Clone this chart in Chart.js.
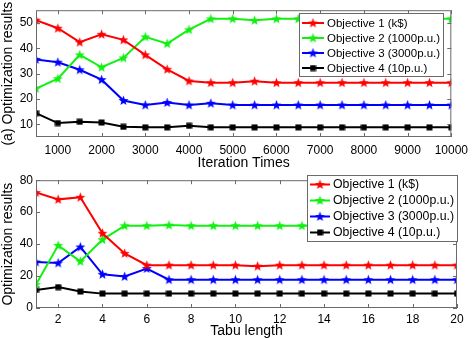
<!DOCTYPE html>
<html lang="en">
<head>
  <meta charset="UTF-8" />
  <title>Optimization results</title>
  <script src="https://cdn.jsdelivr.net/npm/chart.js"></script>
  <style>
    body {
      margin: 0;
      background: #fff;
      width: 474px;
      height: 338px;
      overflow: hidden;
      position: relative;
    }
    canvas {
      position: absolute;
      left: 0;
    }
    #topChart { top: 0; }
    #bottomChart { top: 170px; }
  </style>
</head>
<body>

<canvas id="topChart" width="474" height="170"></canvas>
<canvas id="bottomChart" width="474" height="168"></canvas>

<script>
  // ---- data (a): iteration times ----
  const iterations = [500, 1000, 1500, 2000, 2500, 3000, 3500, 4000, 4500, 5000,
                      5500, 6000, 6500, 7000, 7500, 8000, 8500, 9000, 9500, 10000];
  const iterObj1 = [51.1, 47.9, 42.4, 45.5, 43.3, 37.4, 31.7, 27.1, 26.4, 26.4,
                    27.0, 26.4, 26.4, 26.4, 26.4, 26.4, 26.4, 26.4, 26.4, 26.4];
  const iterObj2 = [24.1, 28.0, 37.4, 32.5, 36.2, 44.5, 41.8, 47.3, 51.6, 51.6,
                    51.0, 51.6, 51.6, 51.6, 51.6, 51.6, 51.6, 51.6, 51.6, 51.6];
  const iterObj3 = [35.6, 34.5, 31.5, 27.6, 19.4, 17.6, 18.6, 17.6, 18.3, 17.6,
                    17.6, 17.6, 17.6, 17.6, 17.6, 17.6, 17.6, 17.6, 17.6, 17.6];
  const iterObj4 = [14.4, 10.5, 11.0, 10.7, 9.0, 8.8, 8.8, 9.4, 8.8, 8.8,
                    8.8, 8.8, 8.8, 8.8, 8.8, 8.8, 8.8, 8.8, 8.8, 8.8];
  const iterXTicks = [1000, 2000, 3000, 4000, 5000, 6000, 7000, 8000, 9000, 10000];
  const iterYTicks = [10, 20, 30, 40, 50];

  // ---- data (b): tabu length ----
  const tabuLength = [1, 2, 3, 4, 5, 6, 7, 8, 9, 10, 11, 12, 13, 14, 15, 16, 17, 18, 19, 20];
  const tabuObj1 = [72.3, 68.0, 69.3, 46.8, 34.2, 26.8, 26.8, 26.8, 26.8, 26.8,
                    26.2, 26.8, 26.8, 26.8, 26.8, 26.8, 26.8, 26.8, 26.8, 26.8];
  const tabuObj2 = [14.7, 39.2, 29.2, 42.8, 51.5, 51.5, 51.9, 51.5, 51.5, 51.5,
                    51.5, 51.5, 51.5, 51.5, 51.5, 51.5, 51.5, 51.5, 51.5, 51.5];
  const tabuObj3 = [28.8, 28.2, 38.2, 21.1, 19.7, 24.7, 17.7, 17.7, 17.7, 17.7,
                    17.7, 17.7, 17.7, 17.7, 17.7, 17.7, 17.7, 17.7, 17.7, 17.7];
  const tabuObj4 = [11.3, 13.1, 10.3, 9.0, 9.0, 9.0, 9.0, 9.0, 9.0, 9.0,
                    9.0, 9.0, 9.0, 9.0, 9.0, 9.0, 9.0, 9.0, 9.0, 9.0];
  const tabuXTicks = [2, 4, 6, 8, 10, 12, 14, 16, 18, 20];
  const tabuYTicks = [0, 20, 40, 60, 80];

  const seriesLabels = ['Objective 1 (k$)', 'Objective 2 (1000p.u.)', 'Objective 3 (3000p.u.)', 'Objective 4 (10p.u.)'];
  const seriesColors = ['#ff0000', '#11f011', '#0000ff', '#000000'];

  const FONT = 'Arial, "Liberation Sans", sans-serif';
  const AXIS_COLOR = '#6a6a6a';

  // marker images
  function starMarker(color) {
    const c = document.createElement('canvas');
    c.width = 11; c.height = 11;
    const g = c.getContext('2d');
    g.fillStyle = color;
    g.beginPath();
    for (let i = 0; i < 10; i++) {
      const r = i % 2 === 0 ? 5.2 : 2.2;
      const a = -Math.PI / 2 + i * Math.PI / 5;
      const px = 5.5 + r * Math.cos(a), py = 5.8 + r * Math.sin(a);
      if (i === 0) g.moveTo(px, py); else g.lineTo(px, py);
    }
    g.closePath();
    g.fill();
    return c;
  }
  function squareMarker(color) {
    const c = document.createElement('canvas');
    c.width = 7; c.height = 7;
    const g = c.getContext('2d');
    g.fillStyle = color;
    g.fillRect(0.5, 0.5, 6, 6);
    return c;
  }
  const markers = [starMarker(seriesColors[0]), starMarker(seriesColors[1]),
                   starMarker(seriesColors[2]), squareMarker(seriesColors[3])];

  // box around the plot, inward tick marks and inside legend
  const matlabAxes = {
    id: 'matlabAxes',
    afterDatasetsDraw(chart, args, opts) {
      const ctx = chart.ctx;
      const a = chart.chartArea;
      const xs = chart.scales.x, ys = chart.scales.y;
      ctx.save();
      ctx.strokeStyle = AXIS_COLOR;
      ctx.lineWidth = 1;
      ctx.strokeRect(a.left + 0.5, a.top + 0.5, a.right - a.left - 1, a.bottom - a.top - 1);
      ctx.beginPath();
      opts.xTicks.forEach(v => {
        const px = Math.round(xs.getPixelForValue(v)) + 0.5;
        ctx.moveTo(px, a.bottom); ctx.lineTo(px, a.bottom - 4);
        ctx.moveTo(px, a.top); ctx.lineTo(px, a.top + 4);
      });
      opts.yTicks.forEach(v => {
        const py = Math.round(ys.getPixelForValue(v)) + 0.5;
        ctx.moveTo(a.left, py); ctx.lineTo(a.left + 4, py);
        ctx.moveTo(a.right, py); ctx.lineTo(a.right - 4, py);
      });
      ctx.stroke();

      // legend
      const L = opts.legend;
      ctx.fillStyle = '#fff';
      ctx.fillRect(L.x, L.y, L.w, L.h);
      ctx.strokeStyle = AXIS_COLOR;
      ctx.strokeRect(L.x + 0.5, L.y + 0.5, L.w, L.h);
      ctx.font = L.fontSize + 'px ' + FONT;
      ctx.textBaseline = 'middle';
      ctx.textAlign = 'left';
      chart.data.datasets.forEach((ds, i) => {
        const y = L.y + L.firstRow + i * L.rowH;
        ctx.strokeStyle = ds.borderColor;
        ctx.lineWidth = 2;
        ctx.beginPath();
        ctx.moveTo(L.x + 3, y); ctx.lineTo(L.x + 3 + L.lineW, y);
        ctx.stroke();
        const m = ds.pointStyle;
        ctx.drawImage(m, L.x + 3 + L.lineW / 2 - m.width / 2, y - m.height / 2);
        ctx.fillStyle = '#000';
        ctx.fillText(ds.label, L.x + 6 + L.lineW, y + 0.5);
      });
      ctx.restore();
    }
  };

  function buildDatasets(values) {
    return values.map((vals, i) => ({
      label: seriesLabels[i],
      data: vals,
      borderColor: seriesColors[i],
      backgroundColor: seriesColors[i],
      borderWidth: 2,
      pointStyle: markers[i],
      pointRadius: 4,
      tension: 0
    }));
  }

  function makeChart(id, xs, values, cfg) {
    return new Chart(document.getElementById(id), {
      type: 'line',
      data: {
        labels: xs,
        datasets: buildDatasets(values).map(ds => ({
          ...ds,
          data: ds.data.map((v, k) => ({ x: xs[k], y: v }))
        }))
      },
      options: {
        responsive: false,
        animation: false,
        layout: { padding: { left: 0, right: 17, top: cfg.padTop, bottom: 0 } },
        plugins: {
          legend: { display: false },
          tooltip: { enabled: false },
          matlabAxes: { xTicks: cfg.xTicks, yTicks: cfg.yTicks, legend: cfg.legend }
        },
        scales: {
          x: {
            type: 'linear',
            min: cfg.xMin, max: cfg.xMax,
            afterBuildTicks: s => { s.ticks = cfg.xTicks.map(v => ({ value: v })); },
            afterFit: s => { s.height = cfg.xHeight; },
            grid: { display: false, drawTicks: false },
            border: { display: false },
            ticks: { color: '#000', font: { family: FONT, size: 12 }, padding: cfg.xTickPad, maxRotation: 0, autoSkip: false,
                     callback: v => String(v) },
            title: { display: true, text: cfg.xTitle, color: '#000', font: { family: FONT, size: 14, lineHeight: 1 }, padding: { top: 0, bottom: cfg.xTitlePad } }
          },
          y: {
            min: cfg.yMin, max: cfg.yMax,
            afterBuildTicks: s => { s.ticks = cfg.yTicks.map(v => ({ value: v })); },
            afterFit: s => { s.width = 36; },
            grid: { display: false, drawTicks: false },
            border: { display: false },
            ticks: { color: '#000', font: { family: FONT, size: 12 }, padding: 3, callback: v => String(v) },
            title: { display: true, text: cfg.yTitle, color: '#000', font: { family: FONT, size: 14, lineHeight: 1 }, padding: { top: 1, bottom: 0 } }
          }
        }
      },
      plugins: [matlabAxes]
    });
  }

  makeChart('topChart', iterations, [iterObj1, iterObj2, iterObj3, iterObj4], {
    xMin: 500, xMax: 10000, yMin: 5, yMax: 55,
    xTicks: iterXTicks, yTicks: iterYTicks,
    xTitle: 'Iteration Times', yTitle: '(a) Optimization results',
    padTop: 1, xHeight: 33, xTickPad: 6, xTitlePad: 0,
    legend: { x: 299, y: 13, w: 144, h: 63, firstRow: 10, rowH: 15, lineW: 22, fontSize: 11.5 }
  });

  makeChart('bottomChart', tabuLength, [tabuObj1, tabuObj2, tabuObj3, tabuObj4], {
    xMin: 1, xMax: 20, yMin: 0, yMax: 80,
    xTicks: tabuXTicks, yTicks: tabuYTicks,
    xTitle: 'Tabu length', yTitle: 'Optimization results',
    padTop: 5, xHeight: 30, xTickPad: 4, xTitlePad: 0,
    legend: { x: 307, y: 5, w: 150, h: 66, firstRow: 9.5, rowH: 16, lineW: 20, fontSize: 12.3 }
  });
</script>
</body>
</html>
